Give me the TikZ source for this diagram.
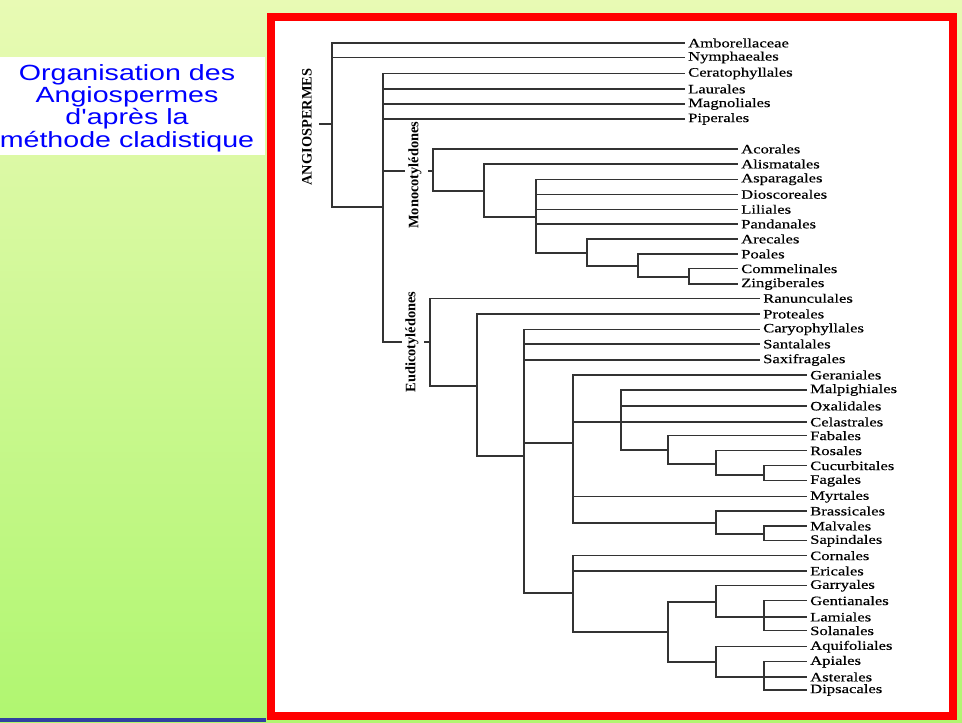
\documentclass[tikz,border=0pt]{standalone}
\usepackage{fontspec}
\setmainfont{Liberation Serif}
\newfontfamily\titlefont[FakeStretch=1.3]{Liberation Sans}
\newfontfamily\leaffont[FakeStretch=1.3,FakeBold=0.4]{Liberation Serif}
\definecolor{gtop}{RGB}{232,250,180}
\definecolor{gbot}{RGB}{176,246,112}
\definecolor{bline}{RGB}{48,64,160}
\begin{document}
\begin{tikzpicture}[x=0.75pt,y=-0.75pt,
  br/.style={draw=black!80,line width=0.8pt},
  leaf/.style={anchor=west,inner xsep=2.2pt,inner ysep=0pt,font=\leaffont\fontsize{9.6}{10}\selectfont},
  clade/.style={rotate=90,font=\bfseries\fontsize{10.8}{11}\selectfont,inner sep=0pt}]
\useasboundingbox (0,0) rectangle (962,722);
\shade[top color=gtop,bottom color=gbot] (0,0) rectangle (962,722);
\fill[white] (0,57) rectangle (265,155);
\fill[bline] (0,718) rectangle (266,722);
\node[align=center,text=blue,font=\titlefont\fontsize{16.5}{16.8}\selectfont] (title) at (127,108)
  {Organisation des\\Angiospermes\\d'après la\\méthode cladistique};
\draw[red,line width=6.5pt,fill=white] (271,17) rectangle (953,716);
% leaves
\foreach \n/\t/\y/\x in {amb/Amborellaceae/43/685,nym/Nymphaeales/57.5/685,cer/Ceratophyllales/73.5/685,
  lau/Laurales/89/685,mag/Magnoliales/104/685,pip/Piperales/119/685,
  aco/Acorales/149/738,ali/Alismatales/164/738,asp/Asparagales/179.3/738,dio/Dioscoreales/194.3/738,
  lil/Liliales/209.3/738,pan/Pandanales/224/738,are/Arecales/239/738,poa/Poales/254/738,
  com/Commelinales/268.7/738,zin/Zingiberales/284/738,
  ran/Ranunculales/298.3/760,pro/Proteales/314/760,car/Caryophyllales/329.3/760,san/Santalales/344/760,
  sax/Saxifragales/360/760,ger/Geraniales/375/807,mal/Malpighiales/390/807,oxa/Oxalidales/406/807,
  cel/Celastrales/422/807,fab/Fabales/435.7/807,ros/Rosales/450.7/807,cuc/Cucurbitales/465.7/807,
  fag/Fagales/480.7/807,myr/Myrtales/496.7/807,bra/Brassicales/511/807,mlv/Malvales/526/807,
  sap/Sapindales/540.7/807,cor/Cornales/555.7/807,eri/Ericales/571/807,gar/Garryales/585.7/807,
  gen/Gentianales/600.7/807,lam/Lamiales/617/807,sol/Solanales/630.7/807,aqu/Aquifoliales/646.7/807,
  api/Apiales/661.7/807,ast/Asterales/677/807,dip/Dipsacales/690/807}
  \node[leaf] (\n) at (\x,\y) {\t};
% internal nodes
\coordinate (r0) at (319,124); \coordinate (R) at (332,124);
\coordinate (N3) at (383,207);
\coordinate (mA) at (405,171); \coordinate (mB) at (428,171); \coordinate (M1) at (433,171);
\coordinate (M2) at (484,191); \coordinate (M3) at (536,217); \coordinate (M4) at (587,253);
\coordinate (M5) at (638,266); \coordinate (M6) at (689,277);
\coordinate (eA) at (402,342); \coordinate (eB) at (424,342); \coordinate (E1) at (430,342);
\coordinate (E2) at (477,386); \coordinate (E3) at (524,456); \coordinate (E4) at (573,443);
\coordinate (E5) at (621,422); \coordinate (E6) at (668,450); \coordinate (E7) at (716,464);
\coordinate (E7b) at (764,475); \coordinate (E8) at (716,523); \coordinate (E9) at (764,534);
\coordinate (E10) at (573,593); \coordinate (E11) at (668,632); \coordinate (E12) at (716,602);
\coordinate (E13) at (764,617); \coordinate (E14) at (716,662); \coordinate (E15) at (764,677);
% branches
\draw[br] (r0) -- (R);
\foreach \p/\c in {R/amb.west,R/nym.west,R/N3,N3/cer.west,N3/lau.west,N3/mag.west,N3/pip.west,N3/mA,N3/eA,
  M1/aco.west,M1/M2,M2/ali.west,M2/M3,M3/asp.west,M3/dio.west,M3/lil.west,M3/pan.west,M3/M4,
  M4/are.west,M4/M5,M5/poa.west,M5/M6,M6/com.west,M6/zin.west,
  E1/ran.west,E1/E2,E2/pro.west,E2/E3,E3/car.west,E3/san.west,E3/sax.west,E3/E4,E3/E10,
  E4/ger.west,E4/E5,E4/myr.west,E4/E8,E5/mal.west,E5/oxa.west,E5/cel.west,E5/E6,
  E6/fab.west,E6/E7,E7/ros.west,E7/E7b,E7b/cuc.west,E7b/fag.west,E8/bra.west,E8/E9,E9/mlv.west,E9/sap.west,
  E10/cor.west,E10/eri.west,E10/E11,E11/E12,E11/E14,E12/gar.west,E12/E13,E13/gen.west,E13/lam.west,E13/sol.west,
  E14/aqu.west,E14/E15,E15/api.west,E15/ast.west,E15/dip.west}
  \draw[br] (\p) |- (\c);
\draw[br] (mB) -- (M1);
\draw[br] (eB) -- (E1);
% clade labels
\node[clade] (angio) at (307,127) {ANGIOSPERMES};
\node[clade] (mono) at (415,175) {Monocotylédones};
\node[clade] (eudi) at (412,342) {Eudicotylédones};
\end{tikzpicture}
\end{document}
